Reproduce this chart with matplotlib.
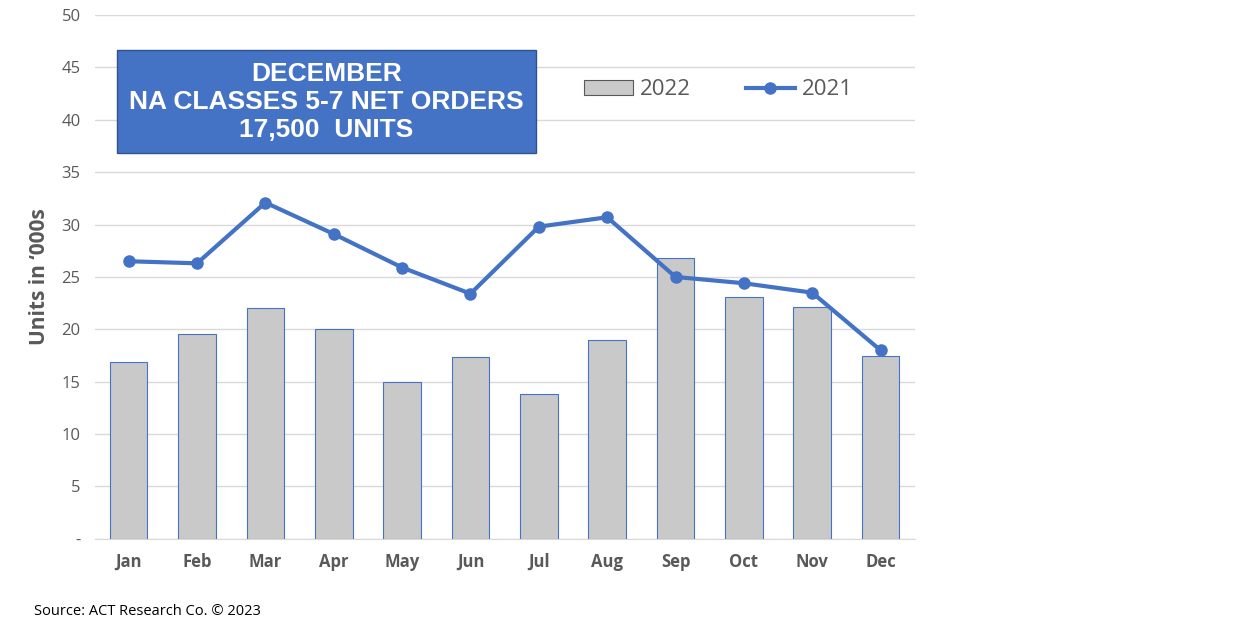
import matplotlib
matplotlib.use("Agg")
import matplotlib.pyplot as plt
from matplotlib.lines import Line2D
from matplotlib.patches import Patch

plt.rcParams["font.family"] = ["Open Sans", "DejaVu Sans"]

months = ["Jan", "Feb", "Mar", "Apr", "May", "Jun", "Jul", "Aug", "Sep", "Oct", "Nov", "Dec"]
orders_2022 = [16.9, 19.6, 22.0, 20.0, 15.0, 17.4, 13.8, 19.0, 26.8, 23.1, 22.1, 17.5]
orders_2021 = [26.5, 26.3, 32.1, 29.1, 25.9, 23.4, 29.8, 30.7, 25.0, 24.4, 23.5, 18.0]
yticks = [0, 5, 10, 15, 20, 25, 30, 35, 40, 45, 50]
ytick_labels = ["-"] + [str(v) for v in yticks[1:]]

blue = "#4472C4"
grey = "#595959"

fig = plt.figure(figsize=(12.6, 6.28), dpi=100)
ax = fig.add_axes([0.075, 0.142, 0.651, 0.834])

x = range(len(months))
ax.bar(x, orders_2022, width=0.55, color="#C9C9C9", edgecolor=blue, lw=0.8, zorder=2)
ax.plot(x, orders_2021, color=blue, lw=3, marker="o", ms=8, zorder=3)

ax.set_ylim(0, 50)
ax.set_xlim(-0.5, 11.5)
ax.set_yticks(yticks)
ax.set_yticklabels(ytick_labels, fontsize=12, color=grey)
ax.set_xticks(list(x))
ax.set_xticklabels(months, fontsize=12, color=grey, fontweight="bold")
ax.tick_params(length=0, pad=10)
ax.grid(axis="y", color="#D9D9D9", lw=1, zorder=0)
for s in ["top", "right", "left"]:
    ax.spines[s].set_visible(False)
ax.spines["bottom"].set_color("#D9D9D9")
ax.set_ylabel("Units in \u2018000s", fontsize=15, color=grey, fontweight="bold", labelpad=8)

handles = [Patch(facecolor="#C9C9C9", edgecolor=grey, lw=0.8, label="2022"),
           Line2D([], [], color=blue, lw=3, marker="o", ms=8, label="2021")]
fig.legend(handles=handles, loc="center", bbox_to_anchor=(0.57, 0.857), ncol=2,
           frameon=False, fontsize=16, labelcolor=grey, handlelength=2.2,
           columnspacing=2.5, handletextpad=0.3)

fig.text(0.259, 0.838,
         "DECEMBER\nNA CLASSES 5-7 NET ORDERS\n17,500  UNITS",
         ha="center", va="center", fontsize=19, fontweight="bold", color="white",
         linespacing=1.2, family=["Liberation Sans", "DejaVu Sans"],
         bbox=dict(boxstyle="square,pad=0.45", facecolor=blue, edgecolor="#2F528F", lw=1))

fig.text(0.027, 0.02, "Source: ACT Research Co. \u00a9 2023", fontsize=10.5, color="black")

fig.savefig("out.png", dpi=100)
